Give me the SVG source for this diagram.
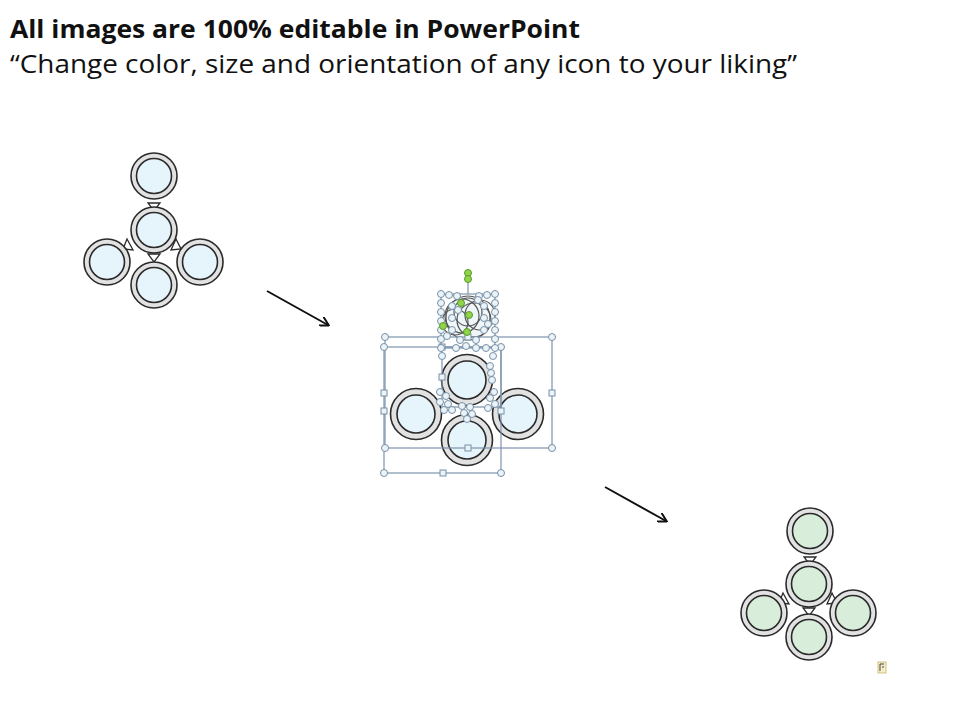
<svg xmlns="http://www.w3.org/2000/svg" width="960" height="720" viewBox="0 0 960 720">
<style>
.t1{font-family:"Open Sans","Liberation Sans",Arial,sans-serif;font-weight:bold;font-size:25px;fill:#111}
.t2{font-family:"Open Sans","Liberation Sans",Arial,sans-serif;font-size:25px;fill:#111}
.ring{fill:#e2e2e2;stroke:#2a2a2a;stroke-width:1.6}
.inB{fill:#e6f4fb;stroke:#2a2a2a;stroke-width:1.6}
.inG{fill:#d8eedb;stroke:#2a2a2a;stroke-width:1.6}
.tri{fill:#fff;stroke:#2a2a2a;stroke-width:1.3}
.sel{fill:none;stroke:#7d93ad;stroke-width:1.2}
.h{fill:#eaf3f8;stroke:#7890a6;stroke-width:1}
.g{fill:#8fd44a;stroke:#5a9a2a;stroke-width:1}
.arr{stroke:#111;stroke-width:2;fill:none}
</style>
<defs>
<marker id="ah" markerWidth="10" markerHeight="10" refX="8" refY="5" orient="auto" markerUnits="userSpaceOnUse">
<path d="M0,0 L9,5 L0,10" fill="none" stroke="#111" stroke-width="2"/>
</marker>
</defs>
<rect width="960" height="720" fill="#fff"/>
<text class="t1" x="10" y="38" textLength="570" lengthAdjust="spacingAndGlyphs">All images are 100% editable in PowerPoint</text>
<text class="t2" x="10" y="73" textLength="787" lengthAdjust="spacingAndGlyphs">“Change color, size and orientation of any icon to your liking”</text>

<g id="connectors">
<line class="arr" x1="267" y1="291" x2="328" y2="325" marker-end="url(#ah)"/>
<line class="arr" x1="605" y1="487" x2="666" y2="521" marker-end="url(#ah)"/>
</g>

<!-- Group 1 (blue) -->
<g id="blue-diagram">
<polygon class="tri" points="148,203 160,203 154,211"/>
<polygon class="tri" points="127,239 133,250 123,249"/>
<polygon class="tri" points="176,239 181,249 171,250"/>
<polygon class="tri" points="148,254 160,254 154,262"/>
<g id="b-top"><circle class="ring" cx="154" cy="176" r="23"/><circle class="inB" cx="154" cy="176" r="17.5"/></g>
<g id="b-mid"><circle class="ring" cx="154" cy="230" r="23"/><circle class="inB" cx="154" cy="230" r="17.5"/></g>
<g id="b-left"><circle class="ring" cx="107" cy="262" r="23"/><circle class="inB" cx="107" cy="262" r="17.5"/></g>
<g id="b-right"><circle class="ring" cx="200" cy="262" r="23"/><circle class="inB" cx="200" cy="262" r="17.5"/></g>
<g id="b-bottom"><circle class="ring" cx="154" cy="285" r="23"/><circle class="inB" cx="154" cy="285" r="17.5"/></g>
</g>

<!-- Group 2 (selected) -->
<g id="selected-diagram">
<g id="s-cluster" fill="none" stroke="#555" stroke-width="1.2">
<circle cx="468" cy="318" r="22" fill="#eef6fa"/>
<circle cx="462" cy="316" r="17"/>
<circle cx="474" cy="320" r="17"/>
<circle cx="468" cy="312" r="14"/>
<circle cx="480" cy="315" r="15"/>
<circle cx="455" cy="322" r="13"/>
</g>
<g id="s-mid"><circle class="ring" cx="467" cy="380" r="25.5"/><circle class="inB" cx="467" cy="380" r="19"/></g>
<g id="s-left"><circle class="ring" cx="416" cy="414" r="25.5"/><circle class="inB" cx="416" cy="414" r="19"/></g>
<g id="s-right"><circle class="ring" cx="518" cy="414" r="25.5"/><circle class="inB" cx="518" cy="414" r="19"/></g>
<g id="s-bottom"><circle class="ring" cx="467" cy="440" r="25.5"/><circle class="inB" cx="467" cy="440" r="19"/></g>
<rect class="sel" x="385" y="337" width="167" height="111"/>
<rect class="sel" x="384" y="347" width="117" height="126"/>
<rect class="sel" x="442" y="347" width="59" height="60"/>
<rect class="sel" x="441" y="294" width="54" height="54"/>
<line class="sel" x1="468" y1="281" x2="468" y2="294"/>
<g id="handles">
<circle class="h" cx="385" cy="337" r="3.5"/><circle class="h" cx="552" cy="337" r="3.5"/>
<circle class="h" cx="385" cy="448" r="3.5"/><circle class="h" cx="552" cy="448" r="3.5"/>
<circle class="h" cx="384" cy="347" r="3.5"/><circle class="h" cx="501" cy="347" r="3.5"/>
<circle class="h" cx="384" cy="473" r="3.5"/><circle class="h" cx="501" cy="473" r="3.5"/>
<rect class="h" x="549" y="390" width="6" height="6"/><rect class="h" x="465" y="445" width="6" height="6"/>
<rect class="h" x="381" y="390" width="6" height="6"/><rect class="h" x="440" y="470" width="6" height="6"/>
<rect class="h" x="381" y="408" width="6" height="6"/><rect class="h" x="498" y="408" width="6" height="6"/>
<rect class="h" x="439" y="344" width="6" height="6"/><rect class="h" x="439" y="374" width="6" height="6"/>
<rect class="h" x="465" y="334" width="6" height="6"/>
<circle class="h" cx="441" cy="294" r="3.5"/><circle class="h" cx="495" cy="294" r="3.5"/>
<circle class="h" cx="449" cy="295" r="3.5"/><circle class="h" cx="487" cy="295" r="3.5"/>
<circle class="h" cx="457" cy="296" r="3.5"/><circle class="h" cx="479" cy="296" r="3.5"/>
<circle class="h" cx="441" cy="303" r="3.5"/><circle class="h" cx="495" cy="303" r="3.5"/>
<circle class="h" cx="441" cy="312" r="3.5"/><circle class="h" cx="495" cy="312" r="3.5"/>
<circle class="h" cx="441" cy="321" r="3.5"/><circle class="h" cx="495" cy="321" r="3.5"/>
<circle class="h" cx="441" cy="330" r="3.5"/><circle class="h" cx="495" cy="330" r="3.5"/>
<circle class="h" cx="441" cy="339" r="3.5"/><circle class="h" cx="495" cy="339" r="3.5"/>
<circle class="h" cx="441" cy="348" r="3.5"/><circle class="h" cx="495" cy="348" r="3.5"/>
<circle class="h" cx="452" cy="306" r="3.5"/><circle class="h" cx="484" cy="306" r="3.5"/>
<circle class="h" cx="452" cy="318" r="3.5"/><circle class="h" cx="484" cy="318" r="3.5"/>
<circle class="h" cx="452" cy="330" r="3.5"/><circle class="h" cx="484" cy="330" r="3.5"/>
<circle class="h" cx="460" cy="340" r="3.5"/><circle class="h" cx="476" cy="340" r="3.5"/>
<circle class="h" cx="458" cy="310" r="3.5"/><circle class="h" cx="478" cy="300" r="3.5"/>
<circle class="h" cx="488" cy="324" r="3.5"/><circle class="h" cx="447" cy="336" r="3.5"/>
<circle class="h" cx="466" cy="346" r="3.5"/><circle class="h" cx="456" cy="348" r="3.5"/>
<circle class="h" cx="476" cy="348" r="3.5"/><circle class="h" cx="486" cy="348" r="3.5"/>
<circle class="h" cx="442" cy="356" r="3.5"/><circle class="h" cx="493" cy="356" r="3.5"/>
<circle class="h" cx="490" cy="366" r="3.5"/><circle class="h" cx="491" cy="373" r="3.5"/>
<circle class="h" cx="492" cy="380" r="3.5"/>
<circle class="h" cx="440" cy="392" r="3.5"/><circle class="h" cx="446" cy="396" r="3.5"/>
<circle class="h" cx="440" cy="402" r="3.5"/><circle class="h" cx="448" cy="404" r="3.5"/>
<circle class="h" cx="444" cy="410" r="3.5"/><circle class="h" cx="452" cy="410" r="3.5"/>
<circle class="h" cx="494" cy="392" r="3.5"/><circle class="h" cx="490" cy="398" r="3.5"/>
<circle class="h" cx="495" cy="404" r="3.5"/><circle class="h" cx="488" cy="408" r="3.5"/>
<circle class="h" cx="462" cy="406" r="3.5"/><circle class="h" cx="470" cy="407" r="3.5"/>
<circle class="h" cx="464" cy="413" r="3.5"/><circle class="h" cx="472" cy="414" r="3.5"/>
<circle class="h" cx="467" cy="419" r="3.5"/>
<circle class="g" cx="468" cy="273" r="3.5"/><circle class="g" cx="468" cy="279" r="3.5"/>
<circle class="g" cx="461" cy="303" r="3.5"/><circle class="g" cx="469" cy="315" r="3.5"/>
<circle class="g" cx="443" cy="326" r="3.5"/><circle class="g" cx="467" cy="332" r="3.5"/>
</g>
</g>

<!-- Group 3 (green) -->
<g id="green-diagram">
<polygon class="tri" points="804,557 816,557 810,565"/>
<polygon class="tri" points="783,593 789,604 779,603"/>
<polygon class="tri" points="832,593 837,603 827,604"/>
<polygon class="tri" points="803,608 815,608 809,616"/>
<g id="g-top"><circle class="ring" cx="810" cy="531" r="23"/><circle class="inG" cx="810" cy="531" r="17.5"/></g>
<g id="g-mid"><circle class="ring" cx="809" cy="584" r="23"/><circle class="inG" cx="809" cy="584" r="17.5"/></g>
<g id="g-left"><circle class="ring" cx="764" cy="613" r="23"/><circle class="inG" cx="764" cy="613" r="17.5"/></g>
<g id="g-right"><circle class="ring" cx="853" cy="613" r="23"/><circle class="inG" cx="853" cy="613" r="17.5"/></g>
<g id="g-bottom"><circle class="ring" cx="809" cy="637" r="23"/><circle class="inG" cx="809" cy="637" r="17.5"/></g>
</g>
<g id="small-icon">
<rect x="878" y="662" width="8" height="11" fill="#f6edc8" stroke="#c9b56a" stroke-width="0.8"/>
<path d="M880,664 v7 M880,664 h4 M882,667 h2" stroke="#444" stroke-width="1" fill="none"/>
</g>
</svg>
